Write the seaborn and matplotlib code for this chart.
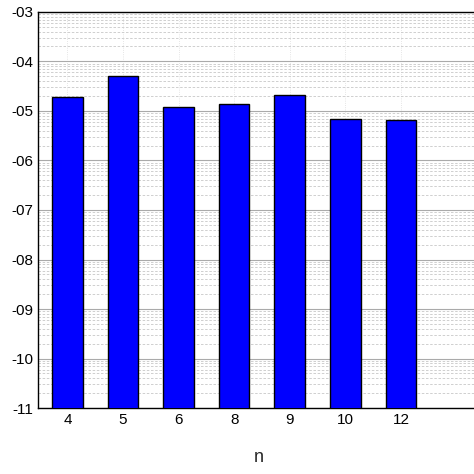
import matplotlib
matplotlib.use("Agg")
import matplotlib.pyplot as plt
import seaborn as sns
import pandas as pd
import numpy as np
from matplotlib.ticker import LogLocator, FixedLocator, FixedFormatter, NullFormatter

n_labels = ["4", "5", "6", "8", "9", "10", "12"]
values = [1.9e-5, 5.1e-5, 1.2e-5, 1.4e-5, 2.1e-5, 6.9e-6, 6.6e-6]
ytick_vals = [1e-11, 1e-10, 1e-9, 1e-8, 1e-7, 1e-6, 1e-5, 1e-4, 1e-3]
ytick_labels = ["-11", "-10", "-09", "-08", "-07", "-06", "-05", "-04", "-03"]

df = pd.DataFrame({"n": n_labels, "v": values})
sns.set_style("white")
plt.rcParams["font.family"] = ["Liberation Sans", "DejaVu Sans"]
fig = plt.figure(figsize=(4.74, 4.74), dpi=100)
ax = fig.add_axes([0.08, 0.139, 0.93, 0.836])
ax.set_yscale("log", nonpositive="clip")
sns.barplot(data=df, x="n", y="v", ax=ax, color="#0000ff", saturation=1,
            edgecolor="black", linewidth=1.0, width=0.55, zorder=3)
ax.set_yscale("log", nonpositive="clip")
ax.set_ylim(1e-11, 1e-3)
ax.set_xlim(-0.53, 7.4)
ax.yaxis.set_major_locator(FixedLocator(ytick_vals))
ax.yaxis.set_major_formatter(FixedFormatter(ytick_labels))
ax.yaxis.set_minor_locator(LogLocator(base=10, subs=np.arange(2, 10), numticks=100))
ax.yaxis.set_minor_formatter(NullFormatter())
ax.grid(True, which="major", axis="y", color="#aaaaaa", lw=0.8, zorder=0)
ax.grid(True, which="minor", axis="y", color="#c8c8c8", lw=0.6, ls=(0, (3, 2)), zorder=0)
ax.grid(True, which="major", axis="x", color="#dddddd", lw=0.6, ls=":", zorder=0)
ax.set_axisbelow(True)
ax.tick_params(axis="both", labelsize=11, direction="in", length=4, colors="black")
ax.set_xlabel("n", fontsize=13, labelpad=16)
ax.set_ylabel("")
for s in ax.spines.values():
    s.set_color("black"); s.set_linewidth(1.0)
fig.savefig("out.png", dpi=100)
